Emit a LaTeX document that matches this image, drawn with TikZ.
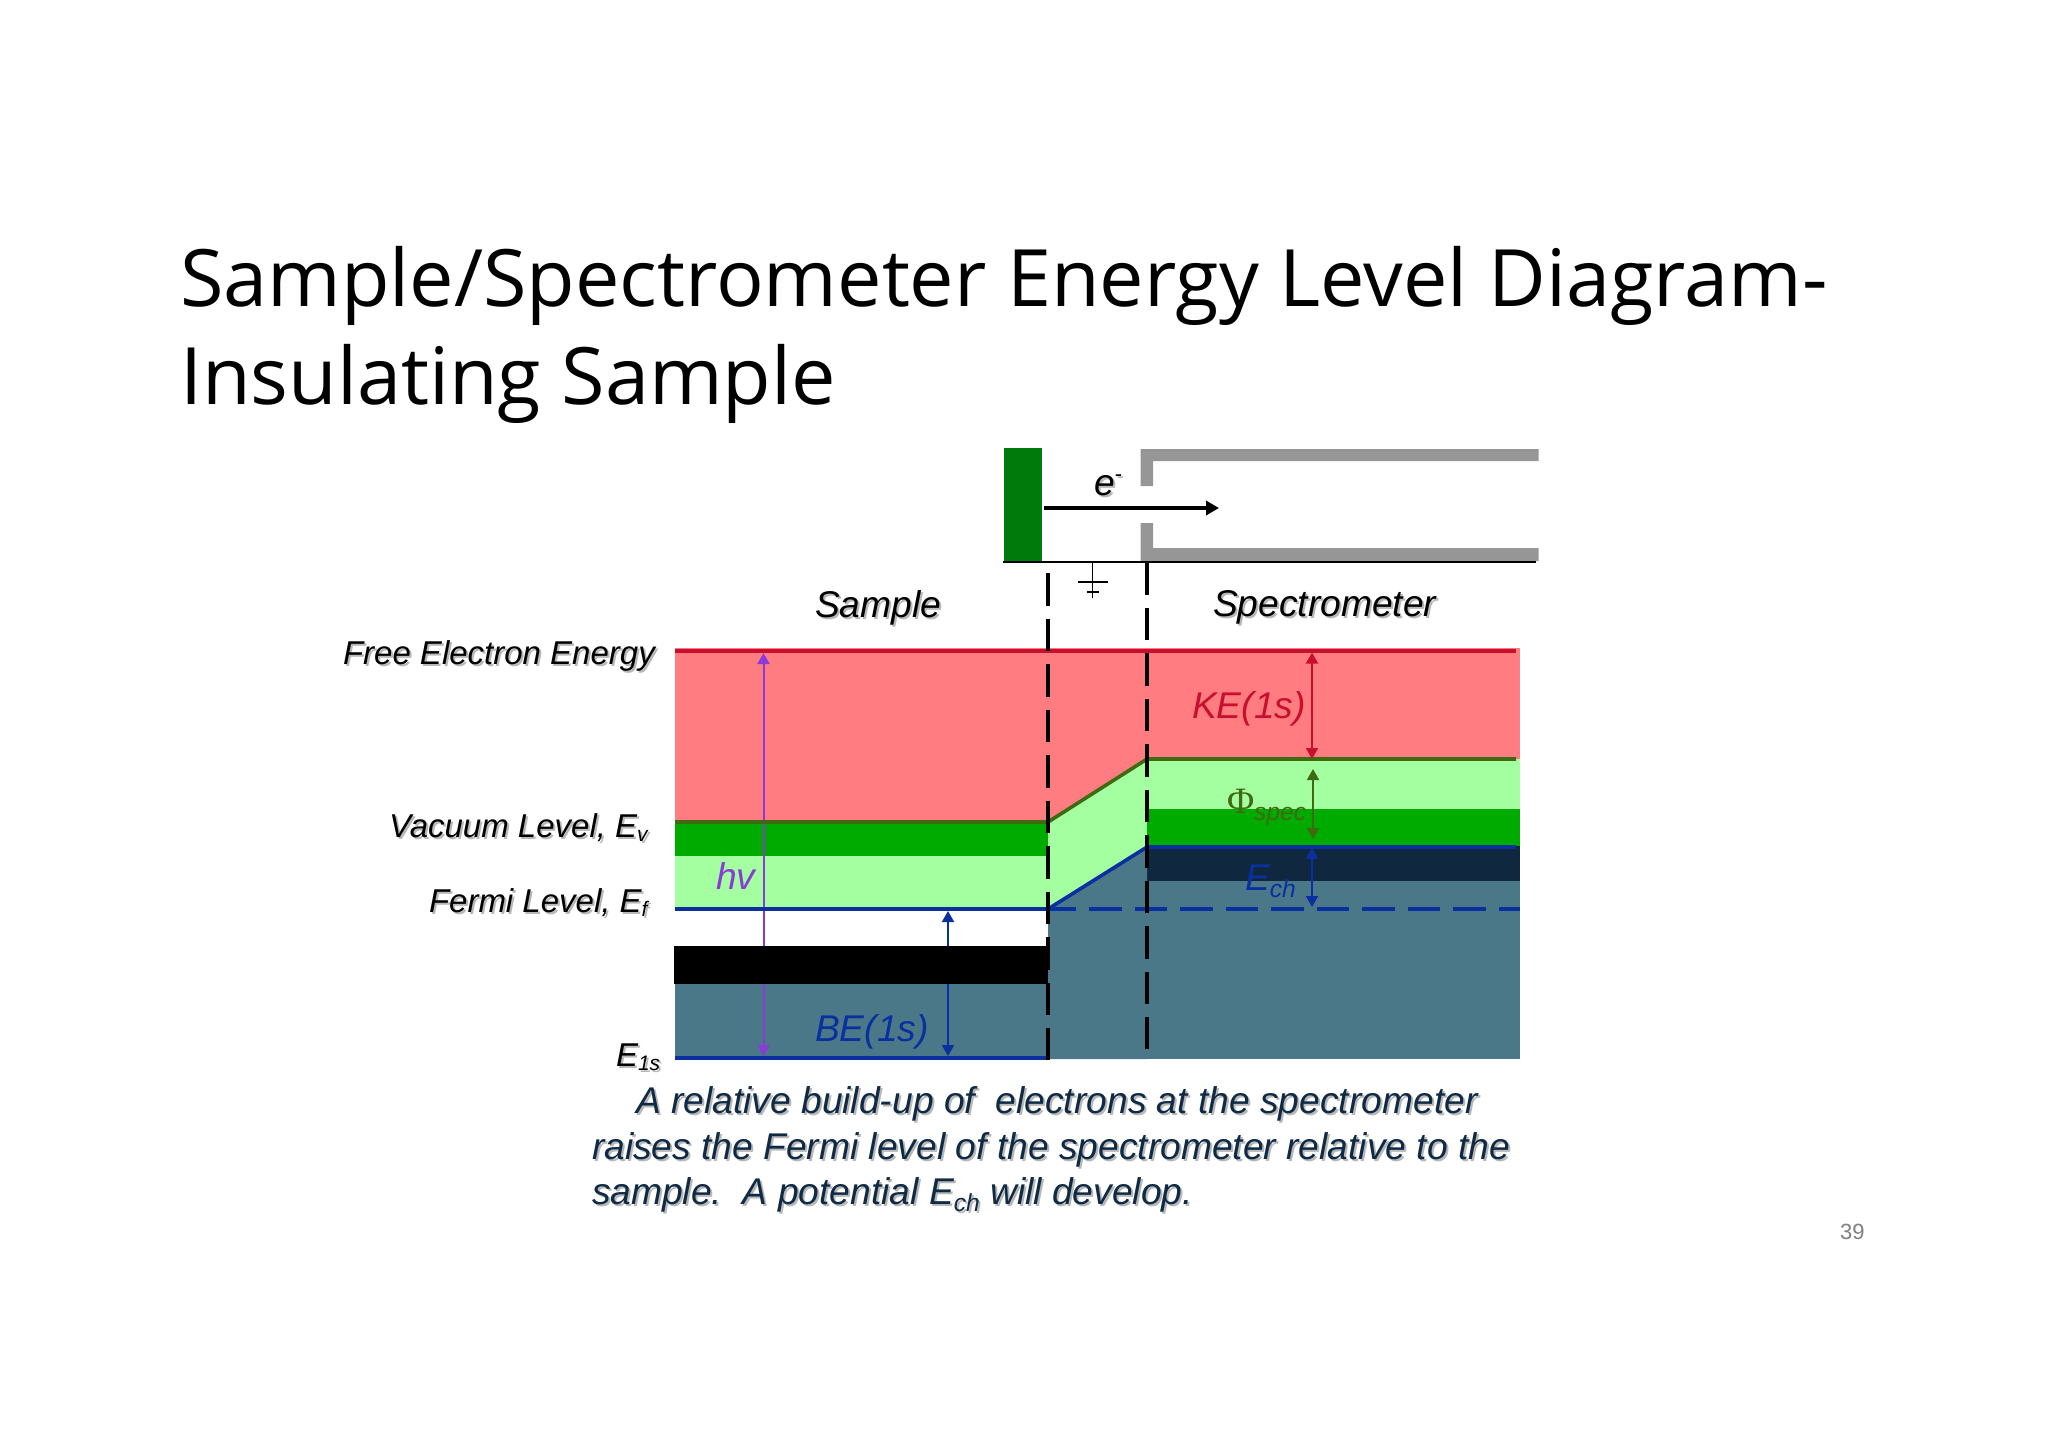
\documentclass[tikz,border=0pt]{standalone}
\usepackage{fontspec}
\usetikzlibrary{arrows.meta}
\setmainfont{Liberation Sans}
\newfontfamily\titlefont{Open Sans}
\newfontfamily\serifphi{Liberation Serif}
\definecolor{redfill}{HTML}{FF7C80}
\definecolor{redline}{HTML}{C8102E}
\definecolor{darkgreen}{HTML}{00AB00}
\definecolor{lightgreen}{HTML}{A4FFA0}
\definecolor{oliveline}{HTML}{3F6A12}
\definecolor{blueline}{HTML}{0A30A0}
\definecolor{navyband}{HTML}{10283F}
\definecolor{tealfill}{HTML}{4A7888}
\definecolor{graywall}{HTML}{969696}
\definecolor{samplegreen}{HTML}{007A0A}
\definecolor{purplehv}{HTML}{8A3AD8}
\definecolor{captionblue}{HTML}{0F2A44}
\newcommand{\shd}[1]{\leavevmode\rlap{\raisebox{-1pt}{\kern 1pt\textcolor{black!28}{#1}}}#1}
\newcommand{\sbs}[1]{\raisebox{-2.3pt}{\fontsize{10.5}{11}\selectfont #1}}
\newcommand{\sbb}[1]{\raisebox{-3.5pt}{\fontsize{12.3}{12}\selectfont #1}}
\tikzset{
  x=0.5pt,y=-0.5pt,
  txt/.style={inner sep=0pt,outer sep=0pt,anchor=base west},
  lbl/.style={txt,font=\fontsize{16.5}{18}\selectfont\itshape,text=black},
  big/.style={txt,font=\fontsize{18.6}{20}\selectfont\itshape},
  captxt/.style={txt,font=\fontsize{18.6}{20}\selectfont\itshape,text=captionblue},
  ttl/.style={txt,font=\titlefont\fontsize{39.6}{44}\selectfont,text=black},
  level/.style={line width=1.8pt},
  vdash/.style={black,line width=2pt,dash pattern=on 16.25pt off 6.5pt},
  thin arrow/.style={line width=1pt,{Triangle[length=5.5pt,width=6pt]}-{Triangle[length=5.5pt,width=6pt]}}
}
\begin{document}
\begin{tikzpicture}
\useasboundingbox (0,0) rectangle (2048,1448);
\fill[white] (0,0) rectangle (2048,1448);
% bands, sample side
\fill[redfill] (675,648) rectangle (1520,760);
\fill[redfill] (675,760) rectangle (1048,822);
\fill[redfill] (1048,760) -- (1147,760) -- (1048,822) -- cycle;
\fill[darkgreen] (675,822) rectangle (1048,856);
\fill[lightgreen] (675,856) rectangle (1048,909);
\fill[lightgreen] (1048,822) -- (1147,759) -- (1147,847) -- (1048,909) -- cycle;
\fill[tealfill] (675,984) rectangle (1048,1059);
% bands, spectrometer side
\fill[lightgreen] (1147,759) rectangle (1520,809);
\fill[darkgreen] (1147,809) rectangle (1520,846);
\fill[navyband] (1147,846) rectangle (1520,881);
\fill[tealfill] (1147,881) rectangle (1520,1059);
\fill[tealfill] (1048,909) -- (1147,847) -- (1147,1059) -- (1048,1059) -- cycle;
% coordinates of level ends
\coordinate (topL) at (675,651);
\coordinate (topR) at (1516,651);
\coordinate (vacL) at (675,822);
\coordinate (vacM) at (1048,822);
\coordinate (vacN) at (1147,759);
\coordinate (vacR) at (1516,759);
\coordinate (fermiL) at (675,909);
\coordinate (fermiM) at (1048,909);
\coordinate (fermiN) at (1147,847);
\coordinate (fermiR) at (1516,847);
\coordinate (dashS) at (1048,909);
\coordinate (dashE) at (1520,909);
\coordinate (coreL) at (675,1058);
\coordinate (coreR) at (1046,1058);
% arrows under the black band
\coordinate (hvT) at (763.5,653);
\coordinate (hvB) at (763.5,1056);
\draw[thin arrow,purplehv] (hvT) -- (hvB);
\coordinate (beT) at (948,911);
\coordinate (beB) at (948,1056);
\draw[thin arrow,blueline] (beT) -- (beB);
% black band
\fill[black] (674,945.5) rectangle (1048,984);
% level lines
\draw[level,redline] (topL) -- (topR);
\draw[level,oliveline] (vacL) -- (vacM) -- (vacN) -- (vacR);
\draw[level,blueline] (fermiL) -- (fermiM) -- (fermiN) -- (fermiR);
\draw[level,blueline,dash pattern=on 16.25pt off 6.5pt,dash phase=2.25pt] (dashS) -- (dashE);
\draw[level,blueline] (coreL) -- (coreR);
% energy arrows
\coordinate (keT) at (1312,652.5);
\coordinate (keB) at (1312,759);
\draw[thin arrow,redline] (keT) -- (keB);
\coordinate (phT) at (1313,769);
\coordinate (phB) at (1313,839);
\draw[thin arrow,oliveline] (phT) -- (phB);
\coordinate (chT) at (1312,848);
\coordinate (chB) at (1312,907);
\draw[thin arrow,blueline] (chT) -- (chB);
% apparatus
\fill[samplegreen] (1004,448) rectangle (1041.5,561);
\fill[graywall] (1140.5,486) -- (1140.5,449) -- (1538.5,449) -- (1538.5,461) -- (1153,461) -- (1153,486) -- cycle;
\fill[graywall] (1140.5,523) -- (1153,523) -- (1153,548) -- (1538.5,548) -- (1538.5,561) -- (1140.5,561) -- cycle;
\coordinate (baseL) at (1003,561.5);
\coordinate (baseR) at (1536,561.5);
\draw[black,line width=1pt] (baseL) -- (baseR);
\coordinate (gndT) at (1092.5,561.5);
\coordinate (gndB) at (1092.5,598);
\draw[black,line width=0.7pt] (gndT) -- (gndB);
\coordinate (gnd1L) at (1077.5,582);
\coordinate (gnd1R) at (1108,582);
\draw[black,line width=0.7pt] (gnd1L) -- (gnd1R);
\coordinate (gnd2L) at (1087,592);
\coordinate (gnd2R) at (1098.5,592);
\draw[black,line width=0.7pt] (gnd2L) -- (gnd2R);
\coordinate (eS) at (1043.5,508);
\coordinate (eE) at (1219,508);
\draw[black,line width=2pt,-{Triangle[length=6.5pt,width=7pt]}] (eS) -- (eE);
% vertical dashed lines
\coordinate (d1T) at (1047.5,573);
\coordinate (d1B) at (1047.5,1060);
\draw[vdash] (d1T) -- (d1B);
\coordinate (d2T) at (1147,562);
\coordinate (d2B) at (1147,1049);
\draw[vdash] (d2T) -- (d2B);
% texts
\node[ttl] (title1) at (180,306) {Sample/Spectrometer Energy Level Diagram-};
\node[ttl] (title2) at (180,404) {Insulating Sample};
\node[big] (elec) at (1094,495) {\shd{e\raisebox{7pt}{\fontsize{11}{11}\selectfont -}}};
\node[big] (samp) at (815,617) {\shd{Sample}};
\node[big] (spec) at (1213,616) {\shd{Spectrometer}};
\node[lbl] (free) at (343,664) {\shd{Free Electron Energy}};
\node[lbl] (vac) at (389,837) {\shd{Vacuum Level, E\sbs{v}}};
\node[lbl] (fer) at (429,912) {\shd{Fermi Level, E\sbs{f}}};
\node[lbl] (eone) at (616,1066) {\shd{E\sbs{1s}}};
\node[big,text=purplehv] (hv) at (716,889) {hv};
\node[big,text=blueline] (be) at (815,1041) {BE(1s)};
\node[big,text=redline] (ke) at (1192,718) {KE(1s)};
\node[big,text=oliveline] (phi) at (1227,813) {{\serifphi\upshape Φ}\sbb{spec}};
\node[big,text=blueline] (ech) at (1245,890) {E\sbb{ch}};
\node[captxt] (c1) at (636,1113) {\shd{A relative build-up of\ \ electrons at the spectrometer}};
\node[captxt] (c2) at (592,1159) {\shd{raises the Fermi level of the spectrometer relative to the}};
\node[captxt] (c3) at (592,1204) {\shd{sample.\ \ A potential E\sbb{ch} will develop.}};
\node[txt,font=\fontsize{11}{12}\selectfont,text=black!50] (pg) at (1840,1239) {39};
\end{tikzpicture}
\end{document}
